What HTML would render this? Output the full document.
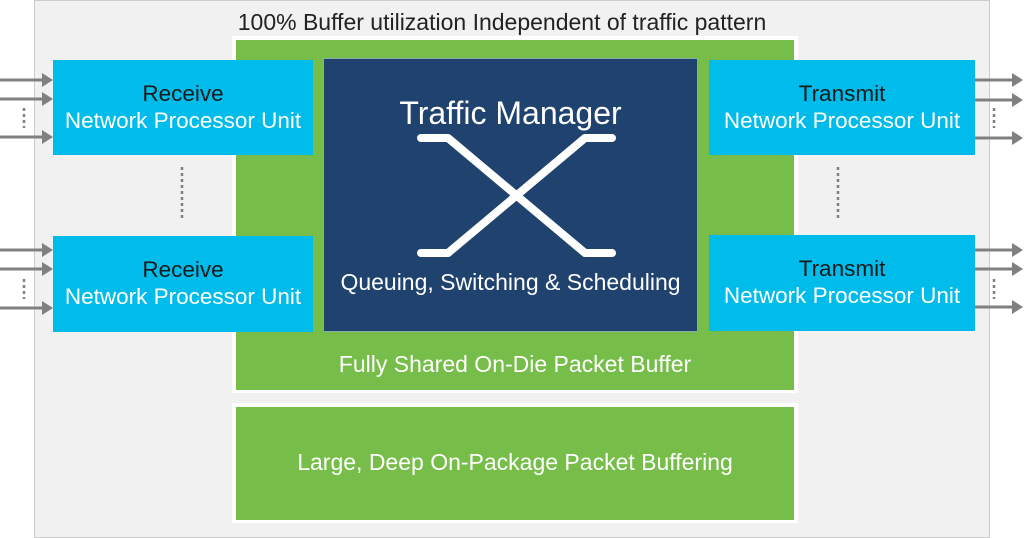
<!DOCTYPE html>
<html><head><style>
body{margin:0;width:1024px;height:538px;background:#fff;position:relative;overflow:hidden;font-family:"Liberation Sans",sans-serif}
div{position:absolute;box-sizing:border-box}
.npu{background:#00bceb;text-align:center;font-size:22.5px;line-height:27px;padding-top:20px}
.npu b{font-weight:normal;color:#1a1a1a;display:block}
.npu span{color:#fff}
</style></head><body>
<div style="left:34px;top:0;width:956px;height:538px;background:#f1f1f1;border:1px solid #ccc"></div>
<div style="left:34px;top:9px;width:956px;text-align:center;font-size:23px;color:#222;padding-right:20px">100% Buffer utilization Independent of traffic pattern</div>
<div style="left:232px;top:36px;width:566px;height:357px;background:#fff"></div>
<div style="left:236px;top:40px;width:558px;height:350px;background:#76bd49"></div>
<div style="left:236px;top:351px;width:558px;text-align:center;color:#fff;font-size:23px">Fully Shared On-Die Packet Buffer</div>
<div style="left:232px;top:403px;width:566px;height:120px;background:#fff"></div>
<div style="left:236px;top:407px;width:558px;height:113px;background:#76bd49;color:#fff;font-size:23px;text-align:center;line-height:110px">Large, Deep On-Package Packet Buffering</div>
<div style="left:323px;top:58px;width:375px;height:274px;background:#1f426e;border:1px solid #8aa"></div>
<div style="left:323px;top:95px;width:375px;text-align:center;color:#fff;font-size:32px">Traffic Manager</div>
<div style="left:323px;top:269px;width:375px;text-align:center;color:#fff;font-size:23px">Queuing, Switching &amp; Scheduling</div>
<svg style="position:absolute;left:0;top:0" width="1024" height="538">
<g fill="none" stroke="#fff" stroke-width="8" stroke-linecap="round" stroke-linejoin="round">
<polyline points="421,138 448,138 585,253 612,253"/>
<polyline points="421,253 448,253 585,138 612,138"/>
</g>
<g stroke="#808080" stroke-width="3" fill="#808080">
<line x1="0" y1="80" x2="44" y2="80"/><line x1="0" y1="99" x2="44" y2="99"/><line x1="0" y1="137" x2="44" y2="137"/>
<line x1="0" y1="250" x2="44" y2="250"/><line x1="0" y1="269" x2="44" y2="269"/><line x1="0" y1="308" x2="44" y2="308"/>
<line x1="975" y1="80" x2="1014" y2="80"/><line x1="975" y1="100" x2="1014" y2="100"/><line x1="975" y1="138" x2="1014" y2="138"/>
<line x1="975" y1="250" x2="1014" y2="250"/><line x1="975" y1="269" x2="1014" y2="269"/><line x1="975" y1="307" x2="1014" y2="307"/>
</g>
<g fill="#808080" stroke="none">
<polygon points="42,73 53,80 42,87"/><polygon points="42,92 53,99 42,106"/><polygon points="42,130 53,137 42,144"/>
<polygon points="42,243 53,250 42,257"/><polygon points="42,262 53,269 42,276"/><polygon points="42,301 53,308 42,315"/>
<polygon points="1012,73 1023,80 1012,87"/><polygon points="1012,93 1023,100 1012,107"/><polygon points="1012,131 1023,138 1012,145"/>
<polygon points="1012,243 1023,250 1012,257"/><polygon points="1012,262 1023,269 1012,276"/><polygon points="1012,300 1023,307 1012,314"/>
</g>
<g stroke="#808080" stroke-width="2.5" stroke-dasharray="3,3">
<line x1="24" y1="108" x2="24" y2="128"/><line x1="24" y1="279" x2="24" y2="299"/>
<line x1="994" y1="108" x2="994" y2="128"/><line x1="994" y1="279" x2="994" y2="299"/>
<line x1="182" y1="167" x2="182" y2="219"/><line x1="838" y1="167" x2="838" y2="219"/>
</g>
</svg>
<div class="npu" style="left:53px;top:60px;width:260px;height:95px"><b>Receive</b><span>Network Processor Unit</span></div>
<div class="npu" style="left:53px;top:236px;width:260px;height:96px"><b>Receive</b><span>Network Processor Unit</span></div>
<div class="npu" style="left:709px;top:60px;width:266px;height:95px"><b>Transmit</b><span>Network Processor Unit</span></div>
<div class="npu" style="left:709px;top:235px;width:266px;height:96px"><b>Transmit</b><span>Network Processor Unit</span></div>
</body></html>
